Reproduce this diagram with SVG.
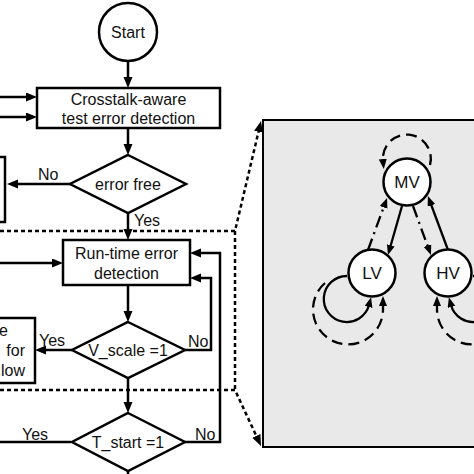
<svg xmlns="http://www.w3.org/2000/svg" width="474" height="474" viewBox="0 0 474 474">
<style>
  .ln{fill:none;stroke:#000;stroke-width:2.5}
  .shape{fill:#fff;stroke:#000;stroke-width:2.5}
  .dot{fill:none;stroke:#000;stroke-width:2.5;stroke-dasharray:4 3}
  .pl{fill:none;stroke:#000;stroke-width:2.3}
  .pd{fill:none;stroke:#000;stroke-width:2.3;stroke-dasharray:11 6}
  .pdd{fill:none;stroke:#000;stroke-width:2.3;stroke-dasharray:12 5 2 5}
  .node{fill:#fff;stroke:#000;stroke-width:2.5}
  text{font-family:"Liberation Sans",Arial,sans-serif;font-size:16px;fill:#111}
  .c{text-anchor:middle}
  .e{text-anchor:end}
  .big{font-size:17px}
</style>
<defs>
  <marker id="a" markerUnits="userSpaceOnUse" markerWidth="12" markerHeight="10" refX="3" refY="4.5" orient="auto">
    <path d="M0,0 L11,4.5 L0,9 z" fill="#000"/>
  </marker>
  <marker id="b" markerUnits="userSpaceOnUse" markerWidth="11" markerHeight="9" refX="2" refY="4" orient="auto">
    <path d="M0,0 L10,4 L0,8 z" fill="#000"/>
  </marker>
</defs>
<rect width="474" height="474" fill="#fff"/>

<g id="panel">
  <rect x="263" y="120" width="230" height="327" fill="#e9e9e9" stroke="#000" stroke-width="2"/>
</g>

<g id="connectors">
  <path class="ln" d="M128,61 V80" marker-end="url(#a)"/>
  <path class="ln" d="M0,97 H29" marker-end="url(#a)"/>
  <path class="ln" d="M0,117 H29" marker-end="url(#a)"/>
  <path class="ln" d="M128,128 V147" marker-end="url(#a)"/>
  <path class="ln" d="M70,184 H15" marker-end="url(#a)"/>
  <path class="ln" d="M128,213 V232" marker-end="url(#a)"/>
  <path class="ln" d="M0,263 H55" marker-end="url(#a)"/>
  <path class="ln" d="M128,285 V314" marker-end="url(#a)"/>
  <path class="ln" d="M72,350 H43" marker-end="url(#a)"/>
  <path class="ln" d="M128,378 V405" marker-end="url(#a)"/>
  <path class="ln" d="M185,350 H211 V278 H198" marker-end="url(#a)"/>
  <path class="ln" d="M185,442 H220 V253 H198" marker-end="url(#a)"/>
  <path class="ln" d="M71,442 H0"/>
  <path class="ln" d="M128,471 V476"/>

  <path class="dot" d="M0,231 H235 L259.2,128.8" marker-end="url(#a)"/>
  <path class="dot" d="M235,231 V390"/>
  <path class="dot" d="M0,390 H235 L257.6,438.7" marker-end="url(#a)"/>

  <path class="pl" d="M402,206 L390.2,247.3" marker-end="url(#b)"/>
  <path class="pdd" d="M368,250 L384.3,205.5" marker-end="url(#b)"/>
  <path class="pdd" d="M413,206 L428.2,247.5" marker-end="url(#b)"/>
  <path class="pl" d="M448,250 L430.7,203.5" marker-end="url(#b)"/>
  <path class="pd" d="M430,165 A24 24 0 1 0 383,161" marker-end="url(#b)"/>
  <path class="pl" d="M347,276 A23 23 0 1 0 369,305" marker-end="url(#b)"/>
  <path class="pd" d="M325,283 A35 35 0 1 0 383,310 L383,304" marker-end="url(#b)"/>
  <path class="pl" d="M473,276 A23 23 0 1 1 451,305" marker-end="url(#b)"/>
  <path class="pd" d="M495,283 A35 35 0 1 1 437,310 L437,304" marker-end="url(#b)"/>
</g>

<g id="start">
  <circle class="shape" cx="128" cy="32" r="29"/>
  <text class="c" x="128" y="38">Start</text>
</g>
<g id="crosstalk">
  <rect class="shape" x="37" y="88" width="183" height="40"/>
  <text class="c" x="128.5" y="105">Crosstalk-aware</text>
  <text class="c" x="128.5" y="124">test error detection</text>
</g>
<g id="leftbox1">
  <rect class="shape" x="-20" y="157" width="25" height="65"/>
</g>
<g id="errorfree">
  <polygon class="shape" points="128,155 186,184 128,213 70,184"/>
  <text class="c" x="128" y="190">error free</text>
</g>
<g id="runtime">
  <rect class="shape" x="63" y="240" width="127" height="45"/>
  <text class="c" x="126.5" y="259">Run-time error</text>
  <text class="c" x="126.5" y="279">detection</text>
</g>
<g id="leftbox2">
  <rect class="shape" x="-40" y="318" width="75" height="65"/>
  <text class="e" x="8" y="336">e</text>
  <text class="e" x="25" y="356">for</text>
  <text class="e" x="25" y="376">low</text>
</g>
<g id="vscale">
  <polygon class="shape" points="128,322 185,350 128,378 72,350"/>
  <text class="c" x="128" y="356">V_scale =1</text>
</g>
<g id="tstart">
  <polygon class="shape" points="128,413 185,442 128,471 72,442"/>
  <text class="c" x="128" y="448">T_start =1</text>
</g>

<g id="labels">
  <text x="38" y="180">No</text>
  <text x="134" y="226">Yes</text>
  <text x="39" y="346">Yes</text>
  <text x="188" y="347">No</text>
  <text x="22" y="440">Yes</text>
  <text x="195" y="440">No</text>
</g>

<g id="MV">
  <circle class="node" cx="407" cy="182" r="23.5"/>
  <text class="c big" x="407" y="188">MV</text>
</g>
<g id="LV">
  <circle class="node" cx="372" cy="273" r="23.5"/>
  <text class="c big" x="372" y="279">LV</text>
</g>
<g id="HV">
  <circle class="node" cx="448" cy="273" r="23.5"/>
  <text class="c big" x="448" y="279">HV</text>
</g>
</svg>
